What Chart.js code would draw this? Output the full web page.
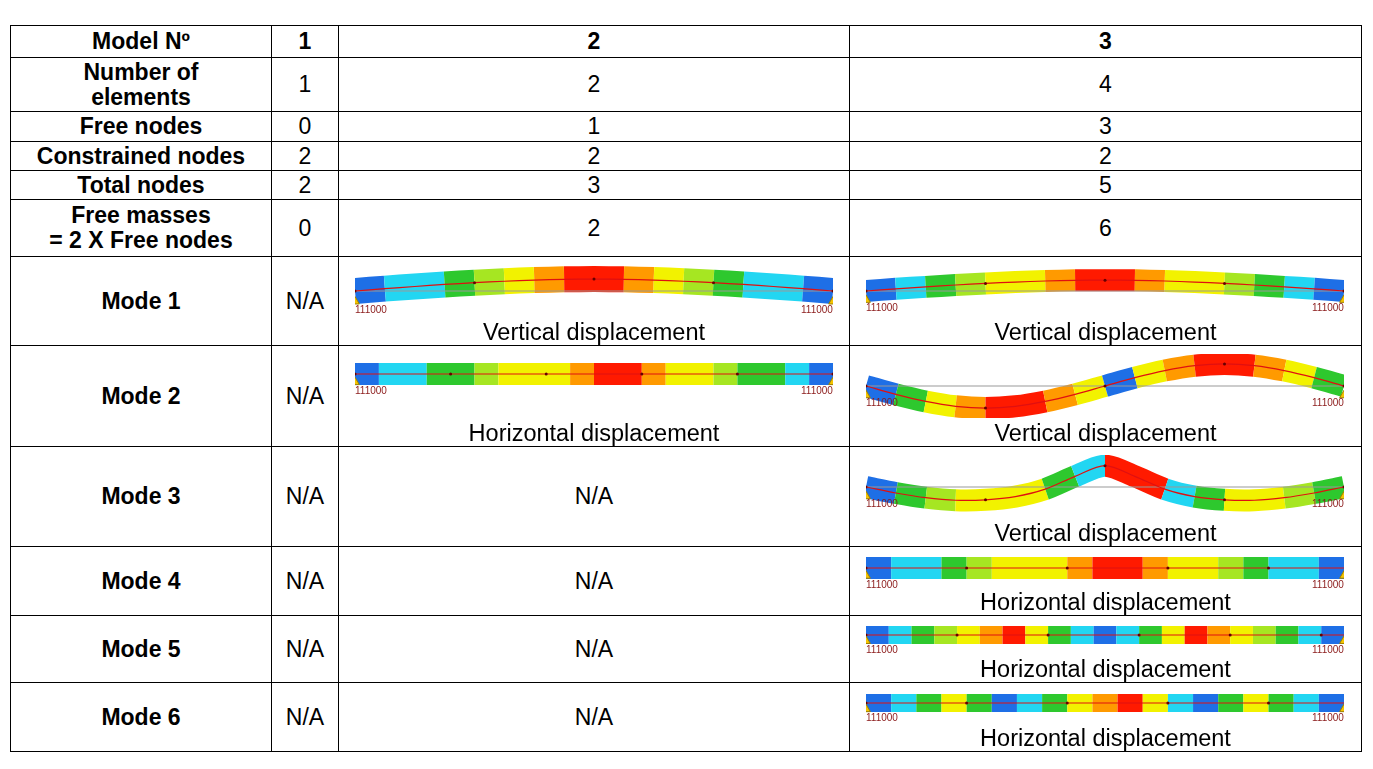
<!DOCTYPE html>
<html><head><meta charset="utf-8">
<script src="https://cdn.jsdelivr.net/npm/chart.js@4.4.1/dist/chart.umd.min.js"></script>
<style>
body{margin:0;background:#fff;font-family:"Liberation Sans",Arial,sans-serif;}
table{position:absolute;left:10px;top:25px;border-collapse:collapse;table-layout:fixed;}
td{border:1.5px solid #000;text-align:center;vertical-align:middle;font-size:23px;padding:0;line-height:25px;overflow:hidden;}
td.h{font-weight:bold;}
.img{position:relative;width:100%;}
.img canvas{position:absolute;left:0;top:0;}
.cap{position:absolute;left:0;right:0;bottom:1px;font-size:23.5px;line-height:24px;}
.lab{position:absolute;font-size:10px;color:#8b1a1a;line-height:10px;}
</style></head><body>
<table id="t">
<colgroup><col style="width:261px"><col style="width:67px"><col style="width:511px"><col style="width:512px"></colgroup>
</table>
<script>
const rowLabels=["Model Nº","Number of<br>elements","Free nodes","Constrained nodes","Total nodes","Free masses<br>= 2 X Free nodes","Mode 1","Mode 2","Mode 3","Mode 4","Mode 5","Mode 6"];
const model1=["1","1","0","2","2","0","N/A","N/A","N/A","N/A","N/A","N/A"];
const model2=["2","2","1","2","3","2","IMG:m21","IMG:m22","N/A","N/A","N/A","N/A"];
const model3=["3","4","3","2","5","6","IMG:m31","IMG:m32","IMG:m33","IMG:m34","IMG:m35","IMG:m36"];
const rowHeights=[32,54,30,29,29,57,89,101,100,69,67,69];

// mode shapes (vertical offsets of the beam axis) and colour bands along beam
const m21Shape=[0,.2,.38,.55,.7,.82,.92,.98,1,.98,.92,.82,.7,.55,.38,.2,0];
const m21Bands=["B","C","C","G","L","Y","O","R","R","O","Y","L","G","C","C","B"];
const m22Bands=["B","C","C","G","G","L","Y","Y","Y","O","R","R","O","Y","Y","L","G","G","C","B"];
const m31Shape=[0,.2,.38,.55,.7,.82,.92,.98,1,.98,.92,.82,.7,.55,.38,.2,0];
const m31Bands=["B","C","G","L","Y","Y","O","R","R","O","Y","Y","L","G","C","B"];
const m32Shape=[0,-.38,-.7,-.92,-1,-.92,-.7,-.38,0,.38,.7,.92,1,.92,.7,.38,0];
const m32Bands=["B","G","Y","O","R","R","O","Y","B","Y","O","R","R","O","Y","G"];
const m33Shape=[0,-.28,-.5,-.62,-.6,-.45,-.1,.5,1,.5,-.1,-.45,-.6,-.62,-.5,-.28,0];
const m33Bands=["B","G","L","Y","Y","Y","G","C","R","R","C","G","Y","Y","L","G"];
const m34Bands=["B","C","C","G","L","Y","Y","Y","O","R","R","O","Y","Y","L","G","C","C","B"];
const m35Bands=["B","C","G","L","Y","O","R","Y","G","C","B","C","G","Y","R","O","Y","L","G","C","B"];
const m36Bands=["B","C","G","Y","G","B","C","G","Y","O","R","Y","C","B","G","Y","G","C","B"];
const palette={B:"#1e6fe6",C:"#22d6f2",G:"#2ec82e",L:"#a6e622",Y:"#f2f200",O:"#ff9a00",R:"#ff1a00"};

const imgs={
 m21:{shape:m21Shape,bands:m21Bands,cap:"Vertical displacement",h:62,w:26,r:2.1,base:true,top:2},
 m22:{shape:null,bands:m22Bands,cap:"Horizontal displacement",h:46,w:22,r:2.1,base:false,top:4},
 m31:{shape:m31Shape,bands:m31Bands,cap:"Vertical displacement",h:62,w:22,r:2.3,base:true,top:2},
 m32:{shape:m32Shape,bands:m32Bands,cap:"Vertical displacement",h:76,w:22,r:1.45,base:true,top:1},
 m33:{shape:m33Shape,bands:m33Bands,cap:"Vertical displacement",h:76,w:22,r:1.5,base:true,top:1},
 m34:{shape:null,bands:m34Bands,cap:"Horizontal displacement",h:40,w:22,r:2,base:false,top:0},
 m35:{shape:null,bands:m35Bands,cap:"Horizontal displacement",h:36,w:18,r:2,base:false,top:0},
 m36:{shape:null,bands:m36Bands,cap:"Horizontal displacement",h:38,w:18,r:2,base:false,top:0}
};

const t=document.getElementById('t');
const toDraw=[];
rowLabels.forEach((lab,i)=>{
 const tr=document.createElement('tr');tr.style.height=rowHeights[i]+'px';
 const cells=[lab,model1[i],model2[i],model3[i]];
 cells.forEach((c,j)=>{
  const td=document.createElement('td');
  if(j==0||i==0)td.className='h';
  if(typeof c==='string'&&c.startsWith('IMG:')){
   const key=c.slice(4);const d=imgs[key];
   const div=document.createElement('div');div.className='img';div.style.height=(rowHeights[i]-2)+'px';
   const cv=document.createElement('canvas');cv.width=490;cv.height=d.h;cv.style.left='10px';cv.style.top=d.top+'px';
   div.appendChild(cv);
   const cap=document.createElement('div');cap.className='cap';cap.textContent=d.cap;div.appendChild(cap);
   const ly=(d.top+d.h/2+d.w/2+1)+'px';
   const l1=document.createElement('span');l1.className='lab';l1.textContent='111000';l1.style.left='16px';l1.style.top=ly;div.appendChild(l1);
   const l2=document.createElement('span');l2.className='lab';l2.textContent='111000';l2.style.left='462px';l2.style.top=ly;div.appendChild(l2);
   td.appendChild(div);toDraw.push([cv,d]);
  } else td.innerHTML=c;
  tr.appendChild(td);
 });
 t.appendChild(tr);
});

toDraw.forEach(([cv,d])=>{
 const ys=d.shape||new Array(d.bands.length+1).fill(0);
 const pts=ys.map((y,k)=>({x:k/(ys.length-1),y:y}));
 const segCols=d.bands.map(b=>palette[b]);
 const sy=-d.w/2/(d.h/(2*d.r));
 const ds=[
  {data:pts,order:3,borderWidth:d.w,borderCapStyle:'butt',pointRadius:0,tension:0.3,
   segment:{borderColor:c=>segCols[c.p0DataIndex]}},
  {data:pts,order:1,borderColor:'#e01010',borderWidth:1.2,pointRadius:pts.map((p,k)=>k%4==0?1.5:0),pointBackgroundColor:'#600',pointBorderWidth:0,tension:0.3},
  {type:'scatter',order:0,data:[{x:0,y:sy},{x:1,y:sy}],pointStyle:'triangle',pointRadius:5,backgroundColor:'#f5c400',borderColor:'#a08000',borderWidth:1}
 ];
 if(d.base)ds.push({data:[{x:0,y:0},{x:1,y:0}],order:2,borderColor:'#999',borderWidth:1,pointRadius:0});
 new Chart(cv,{type:'line',data:{datasets:ds},
  options:{responsive:false,animation:false,layout:{padding:{left:6,right:6,top:0,bottom:0}},
   plugins:{legend:{display:false},tooltip:{enabled:false}},
   scales:{x:{type:'linear',min:0,max:1,display:false},y:{min:-d.r,max:d.r,display:false}}}});
});
</script>
</body></html>
